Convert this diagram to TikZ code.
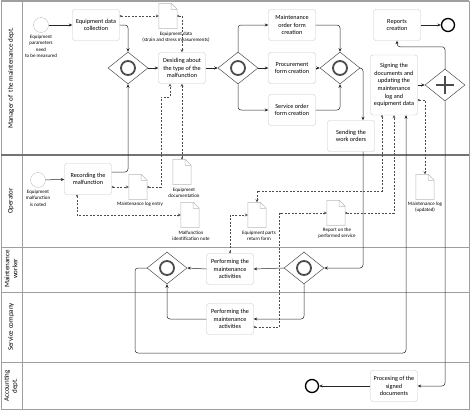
\documentclass[tikz,border=0pt]{standalone}
\usepackage{fontspec}
\setmainfont{Carlito}
\usetikzlibrary{positioning,shapes.geometric,arrows.meta}

\tikzset{
  task/.style={draw=gray!45, rounded corners=2.5pt, minimum width=47pt, minimum height=31pt,
    inner sep=1pt, align=center, font=\fontsize{6.2}{7.6}\selectfont},
  gate/.style={diamond, draw=black!70, line width=0.5pt, minimum width=40pt, minimum height=32pt, inner sep=0pt},
  orgate/.style={gate, path picture={\draw[line width=1.8pt] (path picture bounding box.center) circle (7pt);}},
  andgate/.style={gate, path picture={\draw[line width=2pt]
      ([xshift=-9pt]path picture bounding box.center) -- ([xshift=9pt]path picture bounding box.center)
      ([yshift=-9pt]path picture bounding box.center) -- ([yshift=9pt]path picture bounding box.center);}},
  startev/.style={circle, draw=gray!50, minimum size=15pt, inner sep=0pt},
  endev/.style={circle, draw=black, line width=1.3pt, minimum size=13pt, inner sep=0pt},
  doc/.style={minimum width=18pt, minimum height=25pt, inner sep=0pt},
  smalltext/.style={align=center, font=\fontsize{5}{6.5}\selectfont, inner sep=0pt},
  lanetext/.style={rotate=90, align=center, font=\fontsize{7}{8}\selectfont},
  flow/.style={draw=black!85, line width=0.5pt, rounded corners=3pt, -{Stealth[length=3.5pt,width=3pt]}},
  assoc/.style={draw=black!70, line width=0.45pt, dash pattern=on 2pt off 1.5pt,
    {Circle[open,length=2pt]}-{Stealth[open,length=3pt,width=3pt]}},
  lane/.style={draw=gray!75, line width=0.8pt},
}
\newcommand{\docicon}[1]{\draw[gray!55, line width=0.5pt] (#1.north west) -- ([xshift=-6pt]#1.north east)
  -- ([yshift=-6pt]#1.north east) -- (#1.south east) -- (#1.south west) -- cycle
  ([xshift=-6pt]#1.north east) |- ([yshift=-6pt]#1.north east);}

\begin{document}
\begin{tikzpicture}[x=1pt, y=-1pt]
\useasboundingbox (0,0) rectangle (474,413);

% pool and lanes
\draw[lane] (1,1) rectangle (469,409);
\draw[lane, line width=1.6pt] (1,1) -- (469,1);
\draw[lane] (22,1) -- (22,409);
\draw[lane, line width=1.2pt, draw=gray!90!black] (1,155) -- (469,155);
\foreach \yy in {247,292,362}
  \draw[lane] (1,\yy) -- (469,\yy);

\node[lanetext] (ln1) at (11,78) {Manager of \ the maintenance dept.};
\node[lanetext] (ln2) at (11,201) {Operator};
\node[lanetext] (ln3) at (11,269) {Maintenance\\worker};
\node[lanetext] (ln4) at (11,327) {Service company};
\node[lanetext] (ln5) at (11,386) {Accounting\\dept.};

% manager lane
\node[startev] (s1) at (41,25) {};
\node[smalltext, below=2pt of s1] (s1l) {Equipment\\parameters\\need\\to be measured};
\node[task] (t1) at (96,25) {Equipment data\\collection};
\node[orgate] (g1) at (128,68) {};
\node[task] (t2) at (182,68) {Desiding about\\the type of the\\malfunction};
\node[doc] (d1) at (168,16) {};
\node[smalltext] (d1l) at (176,37) {Equipment data\\(strain and stress measurements)};
\node[orgate] (g2) at (238,68) {};
\node[task] (t3) at (292,25) {Maintenance\\order form\\creation};
\node[task] (t4) at (292,68) {Procurement\\form creation};
\node[task] (t5) at (292,110) {Service order\\form creation};
\node[orgate] (g3) at (340,68) {};
\node[task] (t6) at (351,136) {Sending the\\work orders};
\node[task, minimum height=60pt] (t7) at (394,85) {Signing the\\documents and\\updating the\\maintenance\\log and\\equipment data};
\node[andgate] (g6) at (445,85) {};
\node[task] (t8) at (397,25) {Reports\\creation};
\node[endev] (e1) at (448,25) {};

% operator lane
\node[startev] (s2) at (38,180) {};
\node[smalltext, below=2pt of s2] (s2l) {Equipment\\malfunction\\is noted};
\node[task] (t9) at (88,179) {Recording the\\malfunction};
\node[doc] (d2) at (138,187) {};
\node[smalltext] (d2l) at (140,204) {Maintenance log entry};
\node[doc] (d3) at (182,172) {};
\node[smalltext] (d3l) at (184,193) {Equipment\\documentation};
\node[doc] (d4) at (190,215) {};
\node[smalltext] (d4l) at (191,236) {Malfunction\\identification note};
\node[doc] (d5) at (257,215) {};
\node[smalltext] (d5l) at (259,236) {Equipment parts\\return form};
\node[doc] (d6) at (336,213) {};
\node[smalltext] (d6l) at (337,233) {Report on the\\performed service};
\node[doc] (d7) at (425,187) {};
\node[smalltext] (d7l) at (425,207) {Maintenance log\\(updated)};
\foreach \dd in {d1,d2,d3,d4,d5,d6,d7}{
  \docicon{\dd}
}

% maintenance worker and service company lanes
\node[orgate] (g5) at (167,268) {};
\node[task] (t10) at (230,269) {Performing the\\maintenance\\activities};
\node[orgate] (g4) at (304,268) {};
\node[task] (t11) at (230,319) {Performing the\\maintenance\\activities};

% accounting lane
\node[task] (t12) at (394,386) {Procesing of the\\signed\\documents};
\node[endev] (e2) at (312,386) {};

% sequence flows
\draw[flow] (s1) -- (t1);
\draw[flow] (t1.east) -| (g1.north);
\draw[flow] ([yshift=7pt]t9.east) -| (g1.south);
\draw[flow] (g1.east) -- (t2.west);
\draw[flow] (t2.east) -- (g2.west);
\draw[flow] (g2.north) |- (t3.west);
\draw[flow] (g2.east) -- (t4.west);
\draw[flow] (g2.south) |- (t5.west);
\draw[flow] (t3.east) -| (g3.north);
\draw[flow] (t4.east) -- (g3.west);
\draw[flow] (t5.east) -| (g3.south);
\draw[flow] (g3.east) -| ([xshift=12pt]t6.north);
\draw[flow] ([xshift=12pt]t6.south) |- (g4.east);
\draw[flow] (g4.west) -- (t10.east);
\draw[flow] (g4.south) |- (t11.east);
\draw[flow] (t10.west) -- (g5.east);
\draw[flow] (t11.west) -| (g5.south);
\draw[flow] (g5.west) -| (135,353) -| ([xshift=12pt]t7.south);
\draw[flow] (t7.east) -- (g6.west);
\draw[flow] (g6.north) -- ++(0,-22) -| (t8.south);
\draw[flow] (t8.east) -- (e1.west);
\draw[flow] (g6.south) |- (t12.east);
\draw[flow] (t12.west) -- (e2.east);
\draw[flow] (s2) -- (t9);

% data associations
\draw[assoc] (t1.east |- d1) -- (d1.west);
\draw[assoc] (d1.east) -| (t2.north);
\draw[assoc] (t9.east |- d2) -- (d2.west);
\draw[assoc] (d2.east) -| (161,97) -| ([xshift=-12pt]t2.south);
\draw[assoc] (d3.north) -- (t2.south);
\draw[assoc] ([xshift=-11pt]t9.south) |- (d4.west);
\draw[assoc] (t10.north) |- (d5.west);
\draw[assoc] ([xshift=-12pt]t7.south) -- ++(0,76) -| (d5.north);
\draw[assoc] (d6.east) -| (t7.south);
\draw[assoc] ([yshift=-8pt]t11.east) -- ++(26,0) |- (d6.west);
\draw[assoc] ([yshift=-15pt]t7.east) -| (d7.north);
\end{tikzpicture}
\end{document}
